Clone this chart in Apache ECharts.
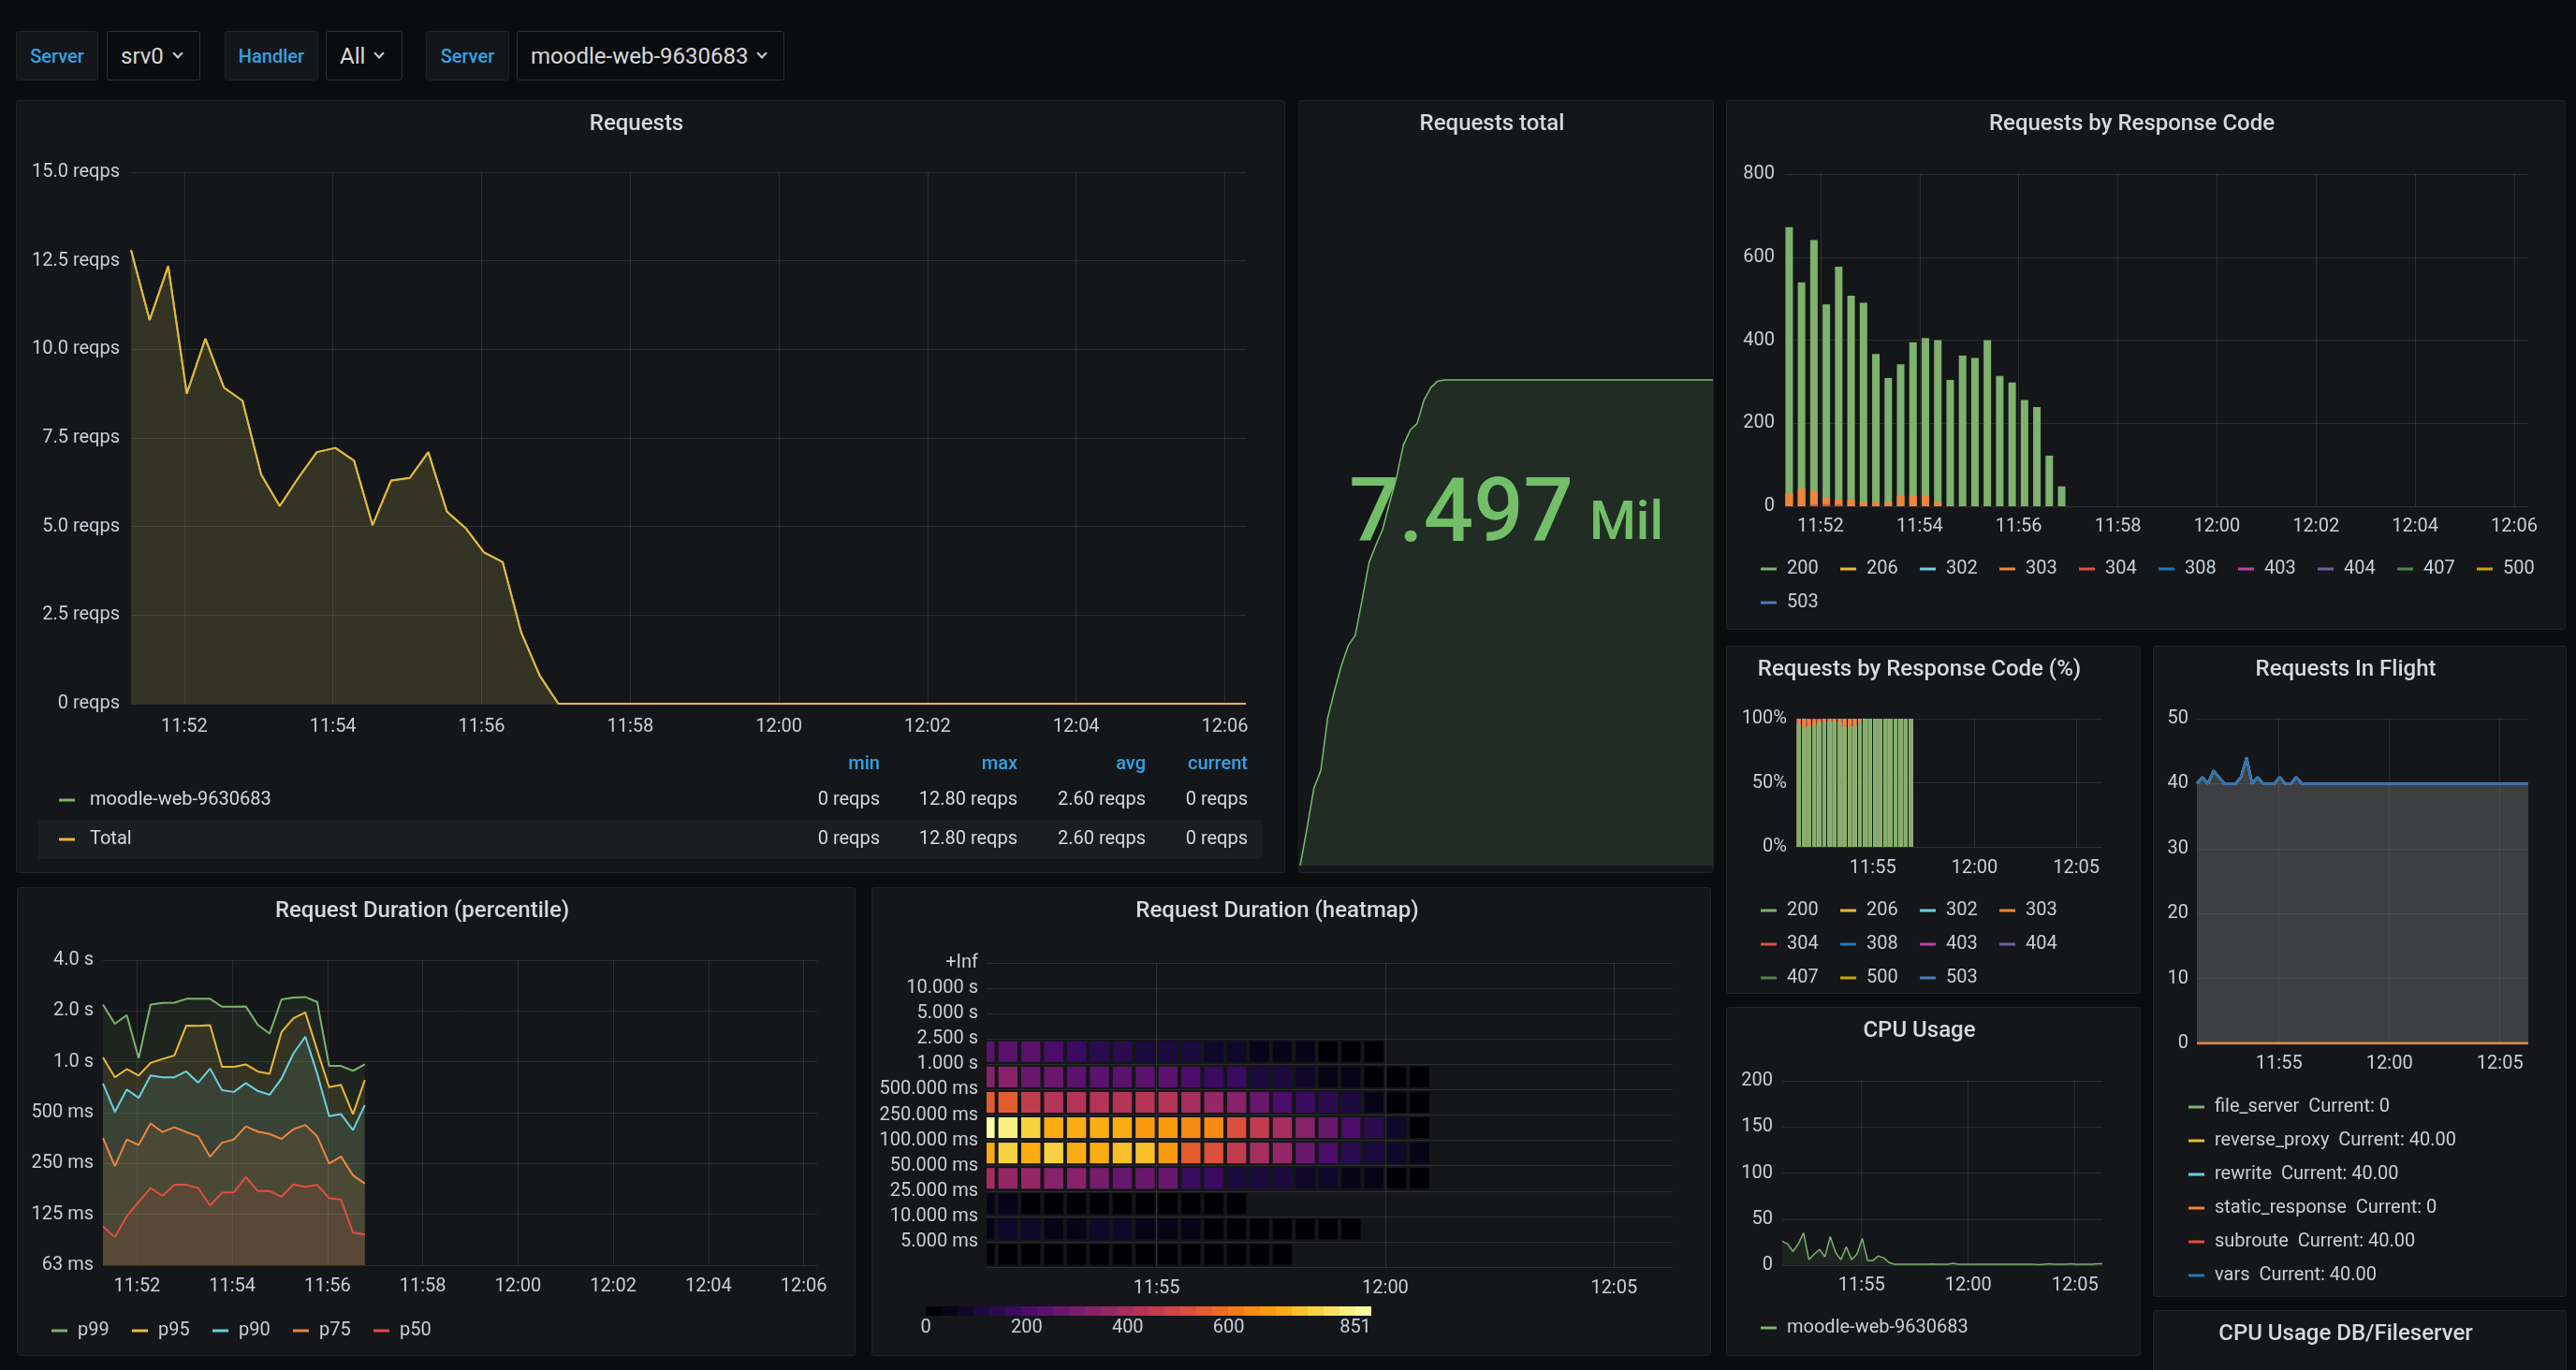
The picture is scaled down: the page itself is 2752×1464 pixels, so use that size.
<!DOCTYPE html>
<html>
<head>
<meta charset="utf-8">
<title>Caddy / Moodle dashboard</title>
<script src="https://cdn.jsdelivr.net/npm/echarts@6.0.0/dist/echarts.min.js"></script>
<style>
html,body{margin:0;padding:0;background:#0b0c0e;}
body{width:2752px;height:1464px;overflow:hidden;position:relative;font-family:Roboto,"Noto Sans",sans-serif;}
.panel{position:absolute;background:#141619;border:1px solid #202226;border-radius:3px;box-sizing:border-box;}
.vl{position:absolute;top:33px;height:53px;box-sizing:border-box;border:1px solid #202226;background:#141619;border-radius:3px;color:#33a2e5;font-size:20px;font-weight:500;display:flex;align-items:center;justify-content:center;}
.vv{position:absolute;top:33px;height:53px;box-sizing:border-box;border:1px solid #2c3235;background:#0b0c0e;border-radius:3px;color:#d8d9da;font-size:24px;display:flex;align-items:center;padding-left:14px;}
.chev{display:inline-block;width:6px;height:6px;border-right:2px solid #c7d0d9;border-bottom:2px solid #c7d0d9;transform:rotate(45deg);margin-left:11px;margin-top:-6px;}
</style>
</head>
<body>
<div class="vl" style="left:17px;width:88px;">Server</div>
<div class="vv" style="left:114px;width:100px;">srv0<span class="chev"></span></div>
<div class="vl" style="left:240px;width:100px;">Handler</div>
<div class="vv" style="left:348px;width:82px;">All<span class="chev"></span></div>
<div class="vl" style="left:455px;width:89px;">Server</div>
<div class="vv" style="left:552px;width:286px;">moodle-web-9630683<span class="chev"></span></div>

<div id="p1" class="panel" style="left:17px;top:107px;width:1356px;height:826px;"></div>
<div id="p2" class="panel" style="left:1387px;top:107px;width:444px;height:826px;"></div>
<div id="p3" class="panel" style="left:1844px;top:107px;width:897px;height:566px;"></div>
<div id="p4" class="panel" style="left:1844px;top:690px;width:443px;height:372px;"></div>
<div id="p5" class="panel" style="left:2300px;top:690px;width:442px;height:696px;"></div>
<div id="p6" class="panel" style="left:1844px;top:1076px;width:443px;height:373px;"></div>
<div id="p7" class="panel" style="left:2300px;top:1400px;width:442px;height:300px;"></div>
<div id="p8" class="panel" style="left:18px;top:948px;width:896px;height:501px;"></div>
<div id="p9" class="panel" style="left:931px;top:948px;width:897px;height:501px;"></div>

<script>
// ------------------------------------------------------------------ data
// time base: samples every 15 s from 11:51:17 to 12:06:17 (61 samples)
const DAY = [2021, 5, 14];
const T_START = new Date(2021, 5, 14, 11, 51, 17).getTime();
const T_END   = new Date(2021, 5, 14, 12, 6, 17).getTime();
const STEP_MS = 15000;
const HM_START = new Date(2021, 5, 14, 11, 51, 0).getTime();   // heatmap buckets, 30 s
const HM_STEP_MS = 30000;

// time tick labels
const ticks2min = ['11:52','11:54','11:56','11:58','12:00','12:02','12:04','12:06'];
const ticks5min = ['11:55','12:00','12:05'];

// Requests (reqps) - one server; Total = sum over servers
const reqServer = [12.8,10.83,12.35,8.75,10.3,8.92,8.55,6.47,5.58,6.37,7.1,7.22,6.86,5.04,6.3,6.37,7.1,5.42,4.96,4.27,4.0,2.01,0.79,
  0,0,0,0,0,0,0,0,0,0, 0,0,0,0,0,0,0,0,0,0, 0,0,0,0,0,0,0,0,0,0, 0,0,0,0,0,0,0,0];

// Requests total counter
const reqCounter = [7488383,7489065,7489793,7490112,7491067,7491568,7492023,7492387,7492569,7493206,
  7493888,7494207,7494498,7494980,7495435,7496027,7496300,7496418,7496846,7497073,7497192,
  7497210,7497210,7497210,7497210,7497210,7497210,7497210,7497210,7497210,7497210,
  7497210,7497210,7497210,7497210,7497210,7497210,7497210,7497210,7497210,7497210,
  7497210,7497210,7497210,7497210,7497210,7497210,7497210,7497210,7497210,7497210,
  7497210,7497210,7497210,7497210,7497210,7497210,7497210,7497210,7497210,7497210];

// Requests by response code (per 15 s)
const codes = ['200','206','302','303','304','308','403','404','407','500','503'];
const count200 = [672,539,641,486,577,507,490,367,309,342,395,405,400,304,363,357,400,314,298,256,239,122,48];
const count303 = [31,43,37,21,16,16,10,10,10,26,26,26,10,0,0,0,0,0,0,0,0,0,0];
const count304 = [0,0,4,5,4,0,0,0,0,0,0,0,0,0,0,0,0,0,0,0,0,0,0];
const countNone = [0,0,0,0,0,0,0,0,0,0,0,0,0,0,0,0,0,0,0,0,0,0,0];   // codes with no responses

// Requests in flight per handler
const handlers = ['file_server','reverse_proxy','rewrite','static_response','subroute','vars'];
const inflightBusy = [40,41,40,42,41,40,40,40,41,44,40,41,40,40,40,41,40,40,41,40,
  40,40,40,40,40,40,40,40,40,40, 40,40,40,40,40,40,40,40,40,40,
  40,40,40,40,40,40,40,40,40,40, 40,40,40,40,40,40,40,40,40,40, 40];
const inflightIdle = [0,0,0,0,0,0,0,0,0,0, 0,0,0,0,0,0,0,0,0,0, 0,0,0,0,0,0,0,0,0,0,
  0,0,0,0,0,0,0,0,0,0, 0,0,0,0,0,0,0,0,0,0, 0,0,0,0,0,0,0,0,0,0, 0];

// CPU usage
const cpuUsage = [26,23,15,23,35,6,12,17,9,31,14,6,20,6,12,29,5,5,10,8,3,1,
  1,1,1,1,1,1,1.2,1,1,1, 2,1,1,1,1,1,1,1,1,1, 1,1,1,1,1,1,0.5,1,1.5,1, 1,1,1.5,1,1,1,1,1.5,1.5];

// Request duration percentiles (seconds)
const p99 = [2.18,1.68,1.89,1.05,2.18,2.23,2.24,2.36,2.36,2.36,2.12,2.12,2.13,1.66,1.47,2.34,2.40,2.42,2.26,0.945,0.945,0.885,0.965];
const p95 = [1.06,0.81,0.905,0.83,0.985,1.04,1.09,1.64,1.63,1.65,0.935,0.935,0.965,0.877,0.85,1.50,1.81,1.96,1.17,0.708,0.73,0.49,0.78];
const p90 = [0.744,0.505,0.686,0.612,0.83,0.81,0.81,0.877,0.753,0.912,0.68,0.663,0.748,0.672,0.638,0.796,1.12,1.41,0.85,0.477,0.49,0.394,0.555];
const p75 = [0.354,0.241,0.347,0.322,0.432,0.384,0.41,0.384,0.362,0.274,0.332,0.347,0.415,0.386,0.374,0.35,0.399,0.423,0.362,0.25,0.275,0.213,0.19];
const p50 = [0.106,0.0916,0.122,0.148,0.179,0.161,0.187,0.187,0.179,0.141,0.168,0.169,0.208,0.172,0.172,0.159,0.188,0.182,0.187,0.156,0.153,0.0976,0.095];

// Request duration heatmap: bucket tick labels and counts per 30 s column
const heatLabels = ['', '5.000 ms', '10.000 ms', '25.000 ms', '50.000 ms', '100.000 ms', '250.000 ms', '500.000 ms', '1.000 s', '2.500 s', '5.000 s', '10.000 s', '+Inf'];
const heat_le5ms   = [12,18,16,16,15,15,14,12,11,10,6,5,4,4,null,null,null,null,null,null];
const heat_le10ms  = [55,85,65,60,55,62,70,48,44,42,12,6,5,4,4,3,3,null,null,null];
const heat_le25ms  = [35,35,28,28,22,18,18,14,10,5,5,4,null,null,null,null,null,null,null,null];
const heat_le50ms  = [390,357,345,330,322,280,258,250,245,180,155,118,106,98,85,77,47,35,12,5];
const heat_le100ms = [690,730,683,740,690,690,705,705,662,535,494,442,368,350,270,190,145,106,64,38];
const heat_le250ms = [851,815,750,672,690,690,690,662,662,620,620,510,442,368,325,245,190,138,85,25];
const heat_le500ms = [520,520,442,425,425,418,418,418,410,368,350,320,256,196,180,135,92,55,25,5];
const heat_le1s    = [325,330,272,260,243,230,226,226,217,192,178,153,112,98,85,55,34,26,15,5];
const heat_le2_5s  = [220,220,215,195,180,145,128,120,118,95,85,72,55,47,33,25,18,16,null,null];
const heatLegendTicks = [0,200,400,600];

// ------------------------------------------------------------------ style
const FONT = 'Roboto, "Noto Sans", sans-serif';
const GRID = 'rgba(204,204,220,0.13)';
const LBL = '#c7d0d9';
const GREEN = '#7EB26D', YELLOW = '#EAB839', CYAN = '#6ED0E0', ORANGE = '#EF843C', RED = '#E24D42', BLUE = '#1F78C1';
const codeColors = ['#7EB26D','#EAB839','#6ED0E0','#EF843C','#E24D42','#1F78C1','#BA43A9','#705DA0','#508642','#CCA300','#447EBC'];
const handlerColors = [GREEN, YELLOW, CYAN, ORANGE, RED, BLUE];
const INFERNO = ['#000004','#160b39','#420a68','#6a176e','#932667','#bc3754','#dd513a','#f37819','#fca50a','#f6d746','#fcffa4'];
const BAR_SHIFT_MS = 5000; // Grafana draws bars starting at the timestamp

const hm = s => { const [h, m] = s.split(':').map(Number); return new Date(DAY[0], DAY[1], DAY[2], h, m, 0).getTime(); };
const pad2 = n => (n < 10 ? '0' : '') + n;
const fmtHM = v => { const d = new Date(v); return pad2(d.getHours()) + ':' + pad2(d.getMinutes()); };
const pair = (arr, shift) => arr.map((v, i) => [T_START + i * STEP_MS + (shift || 0), v]);

const xTime = (ticks, margin) => {
  const tv = ticks.map(hm);
  return {
    type: 'value', min: T_START, max: T_END, scale: true,
    axisLine: {show: false}, axisTick: {show: false, customValues: tv},
    splitLine: {show: true, lineStyle: {color: GRID, width: 1}},
    axisLabel: {customValues: tv, color: LBL, fontSize: 20, fontFamily: FONT, formatter: fmtHM, margin: margin, hideOverlap: false}
  };
};

const yVal = (min, max, interval, fmt, margin) => ({
  type: 'value', min, max, interval,
  axisLine: {show: false}, axisTick: {show: false},
  splitLine: {show: true, lineStyle: {color: GRID, width: 1}},
  axisLabel: {color: LBL, fontSize: 20, fontFamily: FONT, formatter: fmt, margin: margin}
});

const lineS = (name, color, data, extra) => Object.assign({
  type: 'line', name, data, color, symbol: 'none', showSymbol: false, silent: true,
  lineStyle: {width: 2, color}, areaStyle: {color, opacity: 0.1}
}, extra || {});

// legend with Grafana-like line markers; optional fixed text box width for grid-like item spacing
const legendBase = (extra, fixedWidth) => Object.assign({
  icon: 'rect', itemWidth: 17, itemHeight: 3, itemGap: 16, selectedMode: false, padding: 0,
  textStyle: {color: LBL, fontSize: 20, fontFamily: FONT, padding: [0, 0, 0, 6],
    rich: {w: {width: fixedWidth || undefined, color: LBL, fontSize: 20, fontFamily: FONT, lineHeight: 20}}},
  formatter: fixedWidth ? (n => '{w|' + n + '}') : undefined
}, extra);

function mk(id, titleText, option) {
  const c = echarts.init(document.getElementById(id));
  option.animation = false;
  option.textStyle = {fontFamily: FONT};
  const titleEl = {type: 'text', x: c.getWidth() / 2 - 15, y: 25, z: 20,
    style: {text: titleText, fill: '#d8d9da', fontSize: 24, fontWeight: 500, fontFamily: FONT, align: 'center', verticalAlign: 'middle'}};
  option.graphic = (option.graphic || []).concat([titleEl]);
  try { c.setOption(option); } catch (e) { console.error(id, e); }
  return c;
}

// ------------------------------------------------------------------ P1 Requests
const reqTotal = reqServer.map(v => v);
const fmtReq = v => v === 0 ? '0 reqps' : v.toFixed(2) + ' reqps';
const stats = arr => [Math.min(...arr), Math.max(...arr), arr.reduce((a, b) => a + b, 0) / arr.length, arr[arr.length - 1]];
const legendRows = [
  {name: 'moodle-web-9630683', color: GREEN, data: reqServer},
  {name: 'Total', color: YELLOW, data: reqTotal}
];
const statCols = [{k: 'min', x: 922}, {k: 'max', x: 1069}, {k: 'avg', x: 1206}, {k: 'current', x: 1315}];
const rowY = [747, 789];
const tableEls = [{type: 'rect', shape: {x: 23, y: 768, width: 1308, height: 42}, style: {fill: 'rgba(255,255,255,0.03)'}}];
statCols.forEach(c => tableEls.push({type: 'text', x: c.x, y: 709,
  style: {text: c.k, fill: '#33a2e5', fontSize: 20, fontWeight: 500, fontFamily: FONT, align: 'right', verticalAlign: 'middle'}}));
legendRows.forEach((r, i) => {
  tableEls.push({type: 'rect', shape: {x: 45, y: rowY[i] - 1.5, width: 17, height: 3}, style: {fill: r.color}});
  tableEls.push({type: 'text', x: 78, y: rowY[i],
    style: {text: r.name, fill: '#d8d9da', fontSize: 20, fontFamily: FONT, align: 'left', verticalAlign: 'middle'}});
  stats(r.data).forEach((v, j) => tableEls.push({type: 'text', x: statCols[j].x, y: rowY[i],
    style: {text: fmtReq(v), fill: '#d8d9da', fontSize: 20, fontFamily: FONT, align: 'right', verticalAlign: 'middle'}}));
});
mk('p1', 'Requests', {
  grid: {left: 122, right: 41, top: 76, bottom: 180},
  xAxis: xTime(ticks2min, 15),
  yAxis: yVal(0, 15, 2.5, v => v === 0 ? '0 reqps' : v.toFixed(1) + ' reqps', 12),
  series: [lineS('moodle-web-9630683', GREEN, pair(reqServer)), lineS('Total', YELLOW, pair(reqTotal))],
  graphic: tableEls
});

// ------------------------------------------------------------------ P2 Requests total
const lastCount = reqCounter[reqCounter.length - 1];
mk('p2', 'Requests total', {
  grid: {left: 1, right: 0, top: 49, bottom: 7},
  xAxis: {type: 'value', min: T_START, max: T_END, show: false},
  yAxis: {type: 'value', show: false, splitLine: {show: false}, min: e => e.min, max: e => e.min + (e.max - e.min) * 1.48},
  series: [{type: 'line', data: pair(reqCounter), symbol: 'none', silent: true, color: '#73BF69',
    lineStyle: {width: 1.5, color: '#73BF69'}, areaStyle: {color: 'rgba(115,191,105,0.2)'}}],
  graphic: [
    {type: 'text', x: 293, y: 446, z: 10, style: {text: (lastCount / 1e6).toFixed(3), fill: '#73BF69', fontSize: 94, fontWeight: 500, fontFamily: FONT, align: 'right', verticalAlign: 'middle'}},
    {type: 'text', x: 310, y: 454, z: 10, style: {text: 'Mil', fill: '#73BF69', fontSize: 57, fontWeight: 500, fontFamily: FONT, align: 'left', verticalAlign: 'middle'}}
  ]
});

// ------------------------------------------------------------------ P3 Requests by Response Code
const countsByCode = {'200': count200, '303': count303, '304': count304};
const countsOf = c => countsByCode[c] || countNone;
mk('p3', 'Requests by Response Code', {
  grid: {left: 62, right: 39, top: 78, bottom: 131},
  xAxis: xTime(ticks2min, 12),
  yAxis: yVal(0, 800, 200, '{value}', 11),
  legend: legendBase({left: 36, top: 490, width: 860, data: codes}, 41),
  series: codes.map((c, i) => ({type: 'bar', name: c, color: codeColors[i], silent: true,
    data: pair(countsOf(c), BAR_SHIFT_MS), barWidth: 8, barGap: '-100%'}))
});

// ------------------------------------------------------------------ P4 Requests by Response Code (%)
// 100% stacked: each code's bar runs from 0 to the cumulative share and earlier codes are drawn on top
const totals = count200.map((v, i) => v + count303[i] + count304[i]);
const shareOf = c => countsOf(c).map((v, i) => totals[i] ? v / totals[i] * 100 : null);
const cumShare = idx => totals.map((t, k) => t ? codes.slice(0, idx + 1).reduce((s, c) => s + shareOf(c)[k], 0) : null);
mk('p4', 'Requests by Response Code (%)', {
  grid: {left: 75, right: 40, top: 77, bottom: 156},
  xAxis: xTime(ticks5min, 13),
  yAxis: yVal(0, 100, 50, '{value}%', 11),
  legend: legendBase({left: 36, top: 272, width: 370, data: codes}, 41),
  series: codes.map((c, i) => ({type: 'bar', name: c, color: codeColors[i], silent: true, z: 2 + codes.length - i,
    data: pair(cumShare(i), BAR_SHIFT_MS), barWidth: 4, barGap: '-100%'}))
});

// ------------------------------------------------------------------ P5 Requests In Flight
const handlerData = {file_server: inflightIdle, reverse_proxy: inflightBusy, rewrite: inflightBusy,
  static_response: inflightIdle, subroute: inflightBusy, vars: inflightBusy};
const fmtCur = v => v === 0 ? '0' : v.toFixed(2);
mk('p5', 'Requests In Flight', {
  grid: {left: 46, right: 40, top: 77, bottom: 270},
  xAxis: xTime(ticks5min, 12),
  yAxis: yVal(0, 50, 10, '{value}', 9),
  legend: legendBase({orient: 'vertical', left: 37, top: 482, data: handlers,
    formatter: n => n + '  Current: ' + fmtCur(handlerData[n][handlerData[n].length - 1])}),
  series: handlers.map((h, i) => lineS(h, handlerColors[i], pair(handlerData[h]), {lineStyle: {width: 2.5, color: handlerColors[i]}}))
});

// ------------------------------------------------------------------ P6 CPU Usage
mk('p6', 'CPU Usage', {
  grid: {left: 59, right: 40, top: 78, bottom: 96},
  xAxis: xTime(ticks5min, 12),
  yAxis: yVal(0, 200, 50, '{value}', 10),
  legend: legendBase({left: 36, top: 332, data: ['moodle-web-9630683']}),
  series: [lineS('moodle-web-9630683', GREEN, pair(cpuUsage), {lineStyle: {width: 1.5, color: GREEN}})]
});

// ------------------------------------------------------------------ P7 CPU Usage DB/Fileserver
mk('p7', 'CPU Usage DB/Fileserver', {});

// ------------------------------------------------------------------ P8 Request Duration (percentile)
const pctNames = ['p99', 'p95', 'p90', 'p75', 'p50'];
const pctData = [p99, p95, p90, p75, p50];
const pctColors = [GREEN, YELLOW, CYAN, ORANGE, RED];
mk('p8', 'Request Duration (percentile)', {
  grid: {left: 91, right: 40, top: 77, bottom: 96},
  xAxis: xTime(ticks2min, 13),
  yAxis: {type: 'log', logBase: 2, min: 0.0625, max: 4, splitNumber: 6,
    axisLine: {show: false}, axisTick: {show: false},
    splitLine: {show: true, lineStyle: {color: GRID}},
    axisLabel: {color: LBL, fontSize: 20, fontFamily: FONT, margin: 10,
      formatter: v => v < 1 ? Math.round(v * 1000) + ' ms' : v.toFixed(1) + ' s'}},
  legend: legendBase({left: 36, top: 463, data: pctNames}, 42),
  series: pctNames.map((n, i) => lineS(n, pctColors[i], pair(pctData[i]), {areaStyle: {color: pctColors[i], opacity: 0.1, origin: 'start'}}))
});

// ------------------------------------------------------------------ P9 Request Duration (heatmap)
const heatRows = [heat_le5ms, heat_le10ms, heat_le25ms, heat_le50ms, heat_le100ms, heat_le250ms, heat_le500ms, heat_le1s, heat_le2_5s];
const heatCells = [];
heatRows.forEach((row, b) => row.forEach((v, c) => { if (v !== null) heatCells.push([HM_START + c * HM_STEP_MS, b, v]); }));
const heatMax = Math.max(...heatCells.map(d => d[2]));
mk('p9', 'Request Duration (heatmap)', {
  grid: [{left: 122, right: 40, top: 80, bottom: 94}, {left: 57, top: 447, width: 478, height: 10}],
  xAxis: [xTime(ticks5min, 13),
    {type: 'value', gridIndex: 1, min: 0, max: heatMax * 478 / 459,
      axisLine: {show: false}, axisTick: {show: false}, splitLine: {show: false},
      axisLabel: {customValues: heatLegendTicks.concat([heatMax]), color: LBL, fontSize: 20, fontFamily: FONT, margin: 3}}],
  yAxis: [yVal(0, heatLabels.length - 1, 1, v => heatLabels[v], 9),
    {type: 'value', gridIndex: 1, show: false}],
  visualMap: {type: 'piecewise', min: 0, max: heatMax, splitNumber: 28, orient: 'horizontal',
    left: 57, top: 447, itemWidth: 17, itemHeight: 10, itemGap: 0, itemSymbol: 'rect', padding: 0,
    showLabel: false, hoverLink: false, selectedMode: false, seriesIndex: 0, dimension: 2,
    inRange: {color: INFERNO}},
  series: [{type: 'custom', silent: true, data: heatCells, encode: {x: 0, y: 1},
    renderItem: (params, api) => {
      const t = api.value(0), b = api.value(1);
      const a = api.coord([t, b + 1]);
      const z = api.coord([t + HM_STEP_MS, b]);
      const cs = params.coordSys;
      const shape = echarts.graphic.clipRectByRect(
        {x: a[0] + 2, y: a[1] + 2.5, width: z[0] - a[0] - 4, height: z[1] - a[1] - 5},
        {x: cs.x, y: cs.y, width: cs.width, height: cs.height});
      return shape && {type: 'rect', shape: shape, style: {fill: api.visual('color')}};
    }}]
});
</script>
</body>
</html>
